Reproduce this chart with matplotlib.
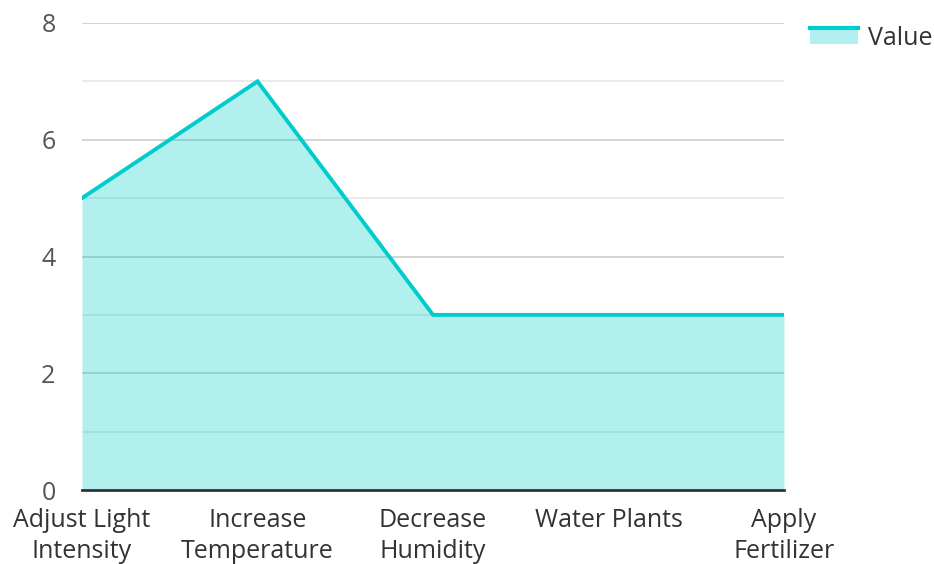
import matplotlib
matplotlib.use("Agg")
import matplotlib.pyplot as plt
from matplotlib.lines import Line2D
from matplotlib.patches import Rectangle
from matplotlib.legend_handler import HandlerBase

plt.rcParams['font.family'] = ['Open Sans', 'DejaVu Sans']

categories = ["Adjust Light\nIntensity", "Increase\nTemperature", "Decrease\nHumidity",
              "Water Plants", "Apply\nFertilizer"]
values = [5, 7, 3, 3, 3]
y_ticks = [0, 2, 4, 6, 8]
series_name = "Value"

LINE = "#00cccc"
FILL = "#00cccc"

fig = plt.figure(figsize=(9.34, 5.64), dpi=100)
ax = fig.add_axes([82 / 934, 1 - 490 / 564, (784 - 82) / 934, (490 - 23) / 564])

x = list(range(len(values)))
ax.fill_between(x, values, 0, color=FILL, alpha=0.3, linewidth=0, zorder=1)
ax.plot(x, values, color=LINE, linewidth=2.8, zorder=3, solid_joinstyle='miter')

ax.set_xlim(0, len(values) - 1)
ax.set_ylim(0, 8)
ax.set_yticks(y_ticks)
ax.set_yticks([1, 3, 5, 7], minor=True)
ax.set_axisbelow(True)
ax.grid(True, which='major', axis='y', color='#cccccc', linewidth=1.2, zorder=0.5)
ax.grid(True, which='minor', axis='y', color='#e6e6e6', linewidth=1.2, zorder=0.5)
ax.set_xticks(x)
ax.set_xticklabels(categories, linespacing=1.3)

for s in ['top', 'right', 'left']:
    ax.spines[s].set_visible(False)
ax.spines['bottom'].set_color('#333333')
ax.spines['bottom'].set_linewidth(2)
ax.spines['bottom'].set_zorder(4)

ax.tick_params(axis='y', which='both', length=0, pad=19, labelsize=18, labelcolor='#555555')
ax.tick_params(axis='x', length=0, pad=13, labelsize=18, labelcolor='#333333')


class AreaHandler(HandlerBase):
    def create_artists(self, legend, orig_handle, xdescent, ydescent, width, height, fontsize, trans):
        rect = Rectangle((-xdescent, -ydescent), width, height, facecolor=FILL, alpha=0.3,
                         linewidth=0, transform=trans)
        line = Line2D([-xdescent, -xdescent + width], [height - ydescent, height - ydescent],
                      color=LINE, linewidth=3, transform=trans)
        return [rect, line]


handle = Rectangle((0, 0), 1, 1)
fig.legend([handle], [series_name], handler_map={Rectangle: AreaHandler()},
           loc='upper left', bbox_to_anchor=(810 / 934, 1 - 26 / 564), frameon=False,
           borderpad=0, borderaxespad=0,
           fontsize=18, handlelength=1.92, handleheight=0.6, handletextpad=0.4,
           labelcolor='#333333')

fig.savefig("out.png", dpi=100)
